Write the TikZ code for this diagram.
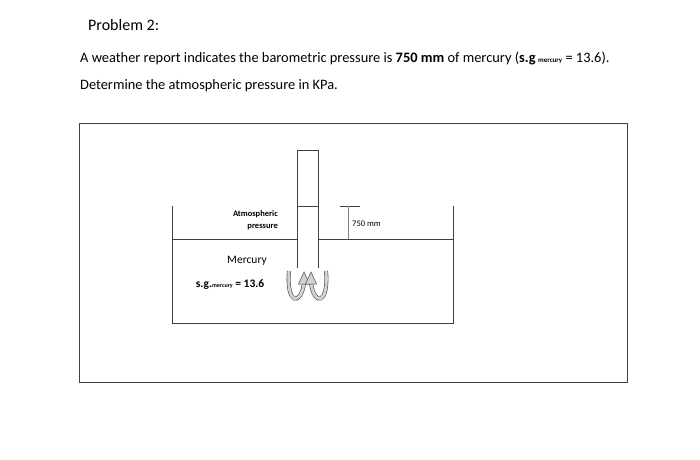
\documentclass[tikz,border=0pt]{standalone}
\usepackage{fontspec}
\setmainfont{Carlito}
\begin{document}
\begin{tikzpicture}[x=1pt,y=-1pt,
  ln/.style={draw=black!75,line width=0.9pt},
  txt/.style={inner sep=0pt,anchor=base west},
  hd/.style={fill=gray!35,draw=black!70,line width=0.5pt}]
\useasboundingbox (0,0) rectangle (700,459);
\node[txt,font=\fontsize{16}{18}\selectfont] (t1) at (88,30) {Problem 2:};
\node[txt,font=\fontsize{14.4}{16}\selectfont] (t2) at (80,62) {A weather report indicates the barometric pressure is \textbf{750 mm} of mercury (\textbf{s.g}\,{\fontsize{7}{8}\selectfont\textbf{mercury}} = 13.6).};
\node[txt,font=\fontsize{14.4}{16}\selectfont] (t3) at (80,89) {Determine the atmospheric pressure in KPa.};
\draw[ln,line width=1pt] (79,123) rectangle (627,382);
% container
\draw[ln] (172,206) -- (172,323) -- (453,323) -- (453,206);
\draw[ln] (172,239) -- (297,239) (318,239) -- (453,239);
% tube
\draw[ln] (297,268) -- (297,150) -- (318,150) -- (318,268);
\draw[ln] (297,206) -- (318,206);
% 750 marker
\draw[ln] (340,206) -- (360,206);
\draw[black!50,line width=0.6pt] (348,206) -- (348,239);
\node[txt,font=\fontsize{8.5}{9}\selectfont] (mm) at (352,226) {750 mm};
\node[inner sep=0pt,align=right,anchor=east,font=\bfseries\fontsize{8.5}{12.5}\selectfont] (ap) at (278,220) {Atmospheric\\pressure};
\node[inner sep=0pt,font=\fontsize{11.5}{13}\selectfont] (hg) at (247,261) {Mercury};
\node[inner sep=0pt,font=\bfseries\fontsize{11.5}{13}\selectfont] (sg) at (230,285) {s.g.{\fontsize{6}{7}\selectfont mercury} = 13.6};
% arrows
\foreach \p in {{(289,271) .. controls (286,305) and (301,306) .. (304,283)},
                {(326,271) .. controls (329,305) and (314,306) .. (311,283)}}{
  \draw[black!70,line width=4pt] \p;
  \draw[gray!35,line width=2.8pt] \p;
}
\path[hd] (298.5,284) -- (304,272) -- (309.5,284) -- cycle;
\path[hd] (305.5,284) -- (311,272) -- (316.5,284) -- cycle;
\end{tikzpicture}
\end{document}
